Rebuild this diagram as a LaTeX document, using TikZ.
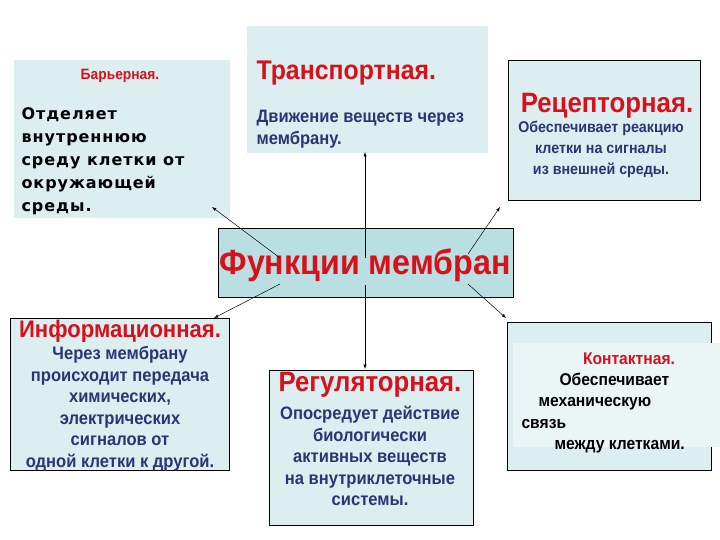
\documentclass[tikz,border=0pt]{standalone}
\usepackage{fontspec}
\setmainfont[FakeStretch=0.92]{Liberation Sans}
\newfontfamily\dv[LetterSpace=6]{DejaVu Sans}
\definecolor{lb}{HTML}{DCEEF0}
\definecolor{cb}{HTML}{B9DFE2}
\definecolor{rd}{HTML}{D8101A}
\definecolor{nv}{HTML}{2B3575}
\begin{document}
\begin{tikzpicture}[x=1pt,y=-1pt,
  box/.style={fill=lb},
  bbox/.style={fill=lb,draw=black,line width=0.8pt},
  ttl/.style={text=rd,font=\bfseries\fontsize{28}{30}\selectfont},
  bdy/.style={text=nv,font=\bfseries\fontsize{18}{21.5}\selectfont,align=center},
  arr/.style={-latex,line width=0.5pt}]
\useasboundingbox (0,0) rectangle (720,540);
\fill[white] (0,0) rectangle (720,540);
% boxes
\path[box] (14,60) rectangle (230,218);
\path[box] (247,26) rectangle (488,153);
\path[bbox] (508,60) rectangle (700,200);
\path[fill=cb,draw=black,line width=0.8pt] (218,228) rectangle (513,297);
\path[bbox] (10,318) rectangle (229,470);
\path[bbox] (269,370) rectangle (473,525);
\path[bbox] (507,322) rectangle (711,470);
\fill[white!40!lb] (513,343) rectangle (720,447);
% texts
\node[text=rd,font=\bfseries\fontsize{15}{17}\selectfont] (bt) at (120,76) {Барьерная.};
\node[anchor=north west,font=\dv\bfseries\fontsize{16}{23}\selectfont,align=left] (bb) at (18,104) {Отделяет\\внутреннюю\\среду клетки от\\окружающей\\среды.};
\node[ttl,anchor=west,font=\bfseries\fontsize{27}{30}\selectfont] (tt) at (253,73) {Транспортная.};
\node[anchor=north west,text=nv,font=\bfseries\fontsize{18}{22}\selectfont,align=left] (tb) at (253,107) {Движение веществ через\\мембрану.};
\node[ttl] (rt) at (607,106) {Рецепторная.};
\node[bdy,font=\bfseries\fontsize{15.5}{21}\selectfont] (rb) at (601,149) {Обеспечивает реакцию\\клетки на сигналы\\из внешней среды.};
\node[text=rd,font=\bfseries\fontsize{35}{37}\selectfont] (c) at (365,265) {Функции мембран};
\node[ttl,font=\bfseries\fontsize{24}{26}\selectfont] (it) at (120,331) {Информационная.};
\node[bdy] (ib) at (120,409) {Через мембрану\\происходит передача\\химических,\\электрических\\сигналов от\\одной клетки к другой.};
\node[ttl] (gt) at (370,385) {Регуляторная.};
\node[bdy] (gb) at (370,456) {Опосредует действие\\биологически\\активных веществ\\на внутриклеточные\\системы.};
\node[text=rd,font=\bfseries\fontsize{17}{19}\selectfont] (kt) at (629,359) {Контактная.};
\node[anchor=north west,font=\bfseries\fontsize{17}{21.5}\selectfont,align=left] (kb) at (518,369)
 {\hspace*{38pt}Обеспечивает\\\hspace*{17pt}механическую\\связь\\\hspace*{33pt}между клетками.};
% connectors
\coordinate (c1) at (280,258); \coordinate (a1) at (212,207);
\coordinate (c2) at (365,258); \coordinate (a2) at (365,152);
\coordinate (c3) at (468,254); \coordinate (a3) at (500,207);
\coordinate (c4) at (280,284); \coordinate (a4) at (214,318);
\coordinate (c5) at (365,285); \coordinate (a5) at (365,369);
\coordinate (c6) at (468,284); \coordinate (a6) at (506,318);
\draw[arr] (c1) -- (a1);
\draw[arr] (c2) -- (a2);
\draw[arr] (c3) -- (a3);
\draw[arr] (c4) -- (a4);
\draw[arr] (c5) -- (a5);
\draw[arr] (c6) -- (a6);
\end{tikzpicture}
\end{document}
